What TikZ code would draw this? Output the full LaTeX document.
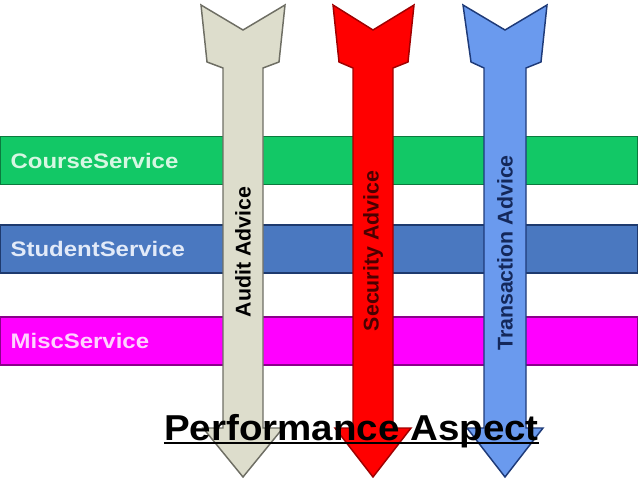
\documentclass[tikz,border=0pt]{standalone}
\usepackage{fontspec}
\setmainfont{Liberation Sans}
\setsansfont{Liberation Sans}
\usepackage{graphicx}
\usepackage{xcolor}
\definecolor{coursegreen}{HTML}{12C866}
\definecolor{courseline}{HTML}{0B7A3E}
\definecolor{coursetext}{HTML}{D6F7E2}
\definecolor{studentblue}{HTML}{4A78C0}
\definecolor{studentline}{HTML}{1E3A6E}
\definecolor{studenttext}{HTML}{E2EAF8}
\definecolor{miscmagenta}{HTML}{FF00FF}
\definecolor{miscline}{HTML}{8B008B}
\definecolor{misctext}{HTML}{FFD2FF}
\definecolor{auditgray}{HTML}{DDDDCC}
\definecolor{auditline}{HTML}{6E6E64}
\definecolor{securityred}{HTML}{FF0000}
\definecolor{securityline}{HTML}{A00000}
\definecolor{securitytext}{HTML}{4A0000}
\definecolor{transblue}{HTML}{6A9AEE}
\definecolor{transline}{HTML}{1E3A78}
\definecolor{transtext}{HTML}{14285A}
\usetikzlibrary{positioning}

\begin{document}
\begin{tikzpicture}[
        x=0.75pt, y=-0.75pt,
        font=\sffamily,
        band_box/.style={
            rectangle,
            anchor=west,
            line width=1pt,
            minimum width=477.75pt,
            minimum height=36pt,
            inner xsep=7.5pt,
            inner ysep=0pt,
            text width=462.75pt,
            align=left,
            font=\sffamily\bfseries\fontsize{15.75}{18}\selectfont
        },
        advice_arrow/.style={
            line width=1.1pt,
            line join=miter
        },
        advice_label/.style={
            rotate=90,
            font=\sffamily\bfseries\fontsize{16}{18}\selectfont
        },
        title_text/.style={
            anchor=base,
            inner sep=0pt,
            font=\sffamily\bfseries\fontsize{27}{30}\selectfont
        }
    ]

    \useasboundingbox (0,0) rectangle (638,478);

    % Service bands
    \node[band_box, fill=coursegreen, draw=courseline, text=coursetext] (course) at (0,160.5) {\scalebox{1.14}[1]{CourseService}};
    \node[band_box, fill=studentblue, draw=studentline, text=studenttext] (student) at (0,249) {\scalebox{1.14}[1]{StudentService}};
    \node[band_box, fill=miscmagenta, draw=miscline, text=misctext] (misc) at (0,341) {\scalebox{1.14}[1]{MiscService}};

    % Audit arrow
    \draw[advice_arrow, fill=auditgray, draw=auditline, shift={(243,0)}]
        (-42,5) -- (0,30) -- (42,5) -- (36,62) -- (20,68) -- (20,428) -- (40,428)
        -- (0,477) -- (-40,428) -- (-20,428) -- (-20,68) -- (-36,62) -- cycle;
    \node[advice_label, text=black] (audit) at (243,252) {Audit Advice};

    % Security arrow
    \draw[advice_arrow, fill=securityred, draw=securityline, shift={(373,0)}]
        (-40,5) -- (0,30) -- (41,5) -- (35,62) -- (20,68) -- (20,428) -- (38,428)
        -- (0,477) -- (-38,428) -- (-20,428) -- (-20,68) -- (-34,62) -- cycle;
    \node[advice_label, text=securitytext] (security) at (373,251) {Security Advice};

    % Transaction arrow
    \draw[advice_arrow, fill=transblue, draw=transline, shift={(505,0)}]
        (-42,5) -- (0,30) -- (42,5) -- (36,62) -- (21,68) -- (21,428) -- (38,428)
        -- (0,477) -- (-38,428) -- (-21,428) -- (-21,68) -- (-34,62) -- cycle;
    \node[advice_label, text=transtext] (transaction) at (505,253) {Transaction Advice};

    % Title
    \node[title_text] (title) at (351.5,440) {\scalebox{1.07}[1]{Performance Aspect}};
    \draw[line width=1.8pt] ([yshift=-2.2pt]title.base west) -- ([yshift=-2.2pt]title.base east);

\end{tikzpicture}
\end{document}
